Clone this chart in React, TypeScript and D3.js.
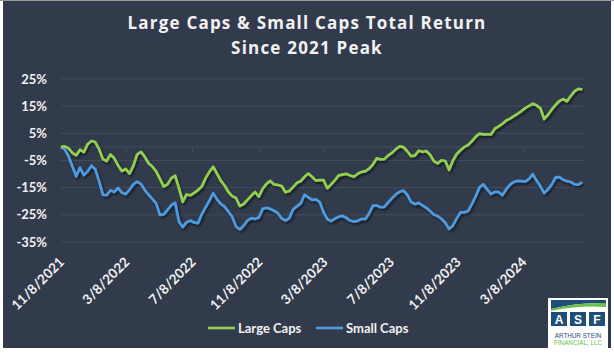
import React from 'react';
import * as d3 from 'd3';

// weekly closes (Mondays), total return since 11/8/2021 in %
const dates = [
  '2021-11-08', '2021-11-15', '2021-11-22', '2021-11-29', '2021-12-06', '2021-12-13', '2021-12-20', '2021-12-27',
  '2022-01-03', '2022-01-10', '2022-01-17', '2022-01-24', '2022-01-31', '2022-02-07', '2022-02-14', '2022-02-21',
  '2022-02-28', '2022-03-07', '2022-03-14', '2022-03-21', '2022-03-28', '2022-04-04', '2022-04-11', '2022-04-18',
  '2022-04-25', '2022-05-02', '2022-05-09', '2022-05-16', '2022-05-23', '2022-05-30', '2022-06-06', '2022-06-13',
  '2022-06-20', '2022-06-27', '2022-07-04', '2022-07-11', '2022-07-18', '2022-07-25', '2022-08-01', '2022-08-08',
  '2022-08-15', '2022-08-22', '2022-08-29', '2022-09-05', '2022-09-12', '2022-09-19', '2022-09-26', '2022-10-03',
  '2022-10-10', '2022-10-17', '2022-10-24', '2022-10-31', '2022-11-07', '2022-11-14', '2022-11-21', '2022-11-28',
  '2022-12-05', '2022-12-12', '2022-12-19', '2022-12-26',
  '2023-01-02', '2023-01-09', '2023-01-16', '2023-01-23', '2023-01-30', '2023-02-06', '2023-02-13', '2023-02-20',
  '2023-02-27', '2023-03-06', '2023-03-13', '2023-03-20', '2023-03-27', '2023-04-03', '2023-04-10', '2023-04-17',
  '2023-04-24', '2023-05-01', '2023-05-08', '2023-05-15', '2023-05-22', '2023-05-29', '2023-06-05', '2023-06-12',
  '2023-06-19', '2023-06-26', '2023-07-03', '2023-07-10', '2023-07-17', '2023-07-24', '2023-07-31', '2023-08-07',
  '2023-08-14', '2023-08-21', '2023-08-28', '2023-09-04', '2023-09-11', '2023-09-18', '2023-09-25', '2023-10-02',
  '2023-10-09', '2023-10-16', '2023-10-23', '2023-10-30', '2023-11-06', '2023-11-13', '2023-11-20', '2023-11-27',
  '2023-12-04', '2023-12-11', '2023-12-18', '2023-12-25',
  '2024-01-01', '2024-01-08', '2024-01-15', '2024-01-22', '2024-01-29', '2024-02-05', '2024-02-12', '2024-02-19',
  '2024-02-26', '2024-03-04', '2024-03-11', '2024-03-18', '2024-03-25', '2024-04-01', '2024-04-08', '2024-04-15',
  '2024-04-22', '2024-04-29', '2024-05-06', '2024-05-13', '2024-05-20', '2024-05-27', '2024-06-03', '2024-06-10',
  '2024-06-17', '2024-06-24',
];

const largeCaps = [
  0.0, 0.2, -0.5, -2.2, -3.1, -1.0, -1.9, 1.0, 2.2, 1.8, -0.8, -4.5, -5.2, -2.8, -4.2, -6.8,
  -8.9, -8.1, -9.8, -7.0, -2.8, -1.8, -3.6, -6.0, -7.2, -9.0, -11.8, -14.6, -13.8, -11.5, -10.6, -15.2,
  -20.2, -17.5, -17.8, -16.9, -15.9, -14.6, -11.5, -9.2, -7.3, -9.8, -12.4, -14.2, -16.6, -18.1, -18.8, -21.8,
  -21.0, -19.5, -18.0, -16.6, -18.3, -15.4, -13.6, -12.5, -13.8, -14.0, -14.4, -16.7,
  -16.2, -14.8, -13.2, -12.6, -11.0, -9.8, -11.0, -12.4, -12.2, -12.2, -15.2, -13.8, -12.2, -10.5, -10.2, -9.9,
  -10.5, -11.0, -9.9, -9.2, -8.9, -8.0, -6.4, -4.2, -4.6, -4.5, -3.1, -2.2, -0.8, 0.2, -0.1, -1.6,
  -3.4, -3.2, -1.4, -1.8, -1.5, -2.9, -5.2, -6.1, -4.9, -5.2, -8.5, -5.0, -2.6, -1.2, 0.0, 0.7,
  2.1, 3.8, 4.9, 4.6,
  4.6, 4.6, 6.7, 7.6, 8.5, 9.7, 10.4, 11.3, 12.2, 13.2, 14.3, 15.1, 15.9, 15.3, 14.2, 10.2,
  11.9, 13.8, 15.5, 16.9, 17.6, 16.8, 18.8, 20.5, 21.4, 21.1,
];

const smallCaps = [
  0.0, -1.0, -3.5, -7.2, -10.8, -7.6, -10.4, -9.0, -6.9, -8.2, -12.6, -17.6, -17.8, -16.0, -16.6, -15.1,
  -16.8, -17.4, -15.8, -13.8, -12.8, -13.6, -15.8, -17.6, -19.1, -20.8, -25.0, -24.8, -23.2, -21.4, -20.5, -27.5,
  -29.5, -27.7, -27.1, -27.8, -28.1, -24.8, -22.2, -19.8, -17.0, -19.3, -21.0, -22.0, -23.8, -25.7, -29.3, -30.4,
  -29.0, -27.1, -26.2, -26.5, -26.0, -22.8, -22.4, -22.8, -23.5, -24.4, -26.3, -27.1,
  -26.2, -23.0, -21.9, -20.8, -17.6, -18.6, -19.5, -19.3, -20.3, -24.0, -26.6, -27.3, -26.4, -25.7, -25.4, -26.1,
  -27.1, -27.5, -27.2, -26.5, -26.5, -24.4, -21.6, -21.6, -22.2, -22.1, -20.4, -18.9, -17.5, -16.5, -16.1, -17.6,
  -20.2, -21.1, -20.6, -21.5, -22.4, -23.6, -24.9, -25.5, -26.5, -27.9, -30.2, -28.9, -26.3, -24.1, -24.1, -23.6,
  -21.0, -18.1, -14.9, -13.8,
  -15.6, -17.3, -16.6, -16.6, -17.8, -15.6, -13.9, -12.9, -12.5, -12.6, -12.8, -11.8, -10.0, -12.4, -14.5, -17.0,
  -15.6, -13.8, -11.2, -11.1, -12.1, -12.6, -12.9, -13.8, -13.9, -13.0,
];

const xTickLabels = ['11/8/2021', '3/8/2022', '7/8/2022', '11/8/2022', '3/8/2023', '7/8/2023', '11/8/2023', '3/8/2024'];
const yTicks = [25, 15, 5, -5, -15, -25, -35];

const BG = '#323b4c';
const GRID = '#434c5d';
const GREEN = '#92d050';
const BLUE = '#4e9be0';

const parseDay = d3.timeParse('%Y-%m-%d');
const parseTick = d3.timeParse('%m/%d/%Y');

export default function App() {
  const days = dates.map((d) => parseDay(d) as Date);

  const x = d3
    .scaleTime()
    .domain([parseDay('2021-11-08') as Date, parseDay('2024-06-29') as Date])
    .range([61, 585]);
  const y = d3.scaleLinear().domain([-35, 25]).range([242, 79]);

  const line = d3
    .line<number>()
    .x((_, i) => x(days[i]))
    .y((v) => y(v));

  const axisFont = 'Lato, "Open Sans", sans-serif';
  const titleProps = {
    x: 307,
    textAnchor: 'middle' as const,
    fill: '#f2f2f2',
    fontFamily: '"Open Sans", sans-serif',
    fontWeight: 700,
    fontSize: 17,
    letterSpacing: 1.2,
  };

  return (
    <svg width={614} height={353} style={{ position: 'absolute', left: 0, top: 0 }}>
      <defs>
        <filter id="shadow" x="-5%" y="-5%" width="110%" height="120%">
          <feDropShadow dx="1.5" dy="2" stdDeviation="1.2" floodColor="#000" floodOpacity="0.55" />
        </filter>
      </defs>
      <rect x={0} y={0} width={614} height={353} fill="#fff" />
      <rect x={3} y={1} width={608} height={347} fill={BG} />
      <line x1={0} x2={614} y1={0.5} y2={0.5} stroke="#9a9a9a" />

      <text {...titleProps} y={29}>
        Large Caps &amp; Small Caps Total Return
      </text>
      <text {...titleProps} y={54}>
        Since 2021 Peak
      </text>

      {yTicks.map((t) => (
        <g key={t}>
          <line x1={61} x2={585} y1={y(t)} y2={y(t)} stroke={GRID} strokeWidth={1} />
          <text
            x={47}
            y={y(t)}
            dy="0.35em"
            textAnchor="end"
            fill="#f2f2f2"
            fontFamily={axisFont}
            fontWeight={700}
            fontSize={13}
          >
            {t}%
          </text>
        </g>
      ))}

      <line x1={61} x2={585} y1={y(0)} y2={y(0)} stroke={GRID} strokeWidth={1} />
      {xTickLabels.map((l) => {
        const tx = x(parseTick(l) as Date);
        return (
          <g key={l}>
            <line x1={tx} x2={tx} y1={y(0)} y2={y(0) + 5} stroke={GRID} />
            <text
              transform={`translate(${tx + 4},${263}) rotate(-45)`}
              textAnchor="end"
              fill="#f2f2f2"
              fontFamily={axisFont}
              fontWeight={700}
              fontSize={13.5}
            >
              {l}
            </text>
          </g>
        );
      })}

      <g filter="url(#shadow)" fill="none" strokeWidth={2.7} strokeLinejoin="round">
        <path d={line(smallCaps) ?? ''} stroke={BLUE} />
        <path d={line(largeCaps) ?? ''} stroke={GREEN} />
      </g>

      <g fontFamily={axisFont} fontWeight={700} fontSize={13} fill="#f2f2f2">
        <line x1={208} x2={235} y1={328} y2={328} stroke={GREEN} strokeWidth={2.6} />
        <text x={238} y={332.5}>Large Caps</text>
        <line x1={316} x2={343} y1={328} y2={328} stroke={BLUE} strokeWidth={2.6} />
        <text x={346} y={332.5}>Small Caps</text>
      </g>

      <g>
        <rect x={548} y={298} width={60} height={51} fill="#fff" />
        <path d="M551,300 L606,300 L606,303 Q578,302 551,309 Z" fill="#1f4e79" />
        <path d="M551,309 Q578,302 606,303 L606,307 Q578,305 551,311 Z" fill="#6abf4b" />
        {['A', 'S', 'F'].map((c, i) => (
          <g key={c}>
            <rect x={551 + i * 19} y={312} width={16} height={14} fill="#1f4e79" />
            <text
              x={559 + i * 19}
              y={323.5}
              textAnchor="middle"
              fill="#fff"
              fontFamily="'Liberation Sans', Arial, sans-serif"
              fontWeight={700}
              fontSize={12}
            >
              {c}
            </text>
          </g>
        ))}
        <text x={578} y={337.5} textAnchor="middle" fill="#1f4e79" fontFamily="'Liberation Sans', Arial, sans-serif" fontSize={6.3}>
          ARTHUR STEIN
        </text>
        <text x={578} y={344.5} textAnchor="middle" fill="#6abf4b" fontFamily="'Liberation Sans', Arial, sans-serif" fontSize={6.3}>
          FINANCIAL, LLC
        </text>
      </g>
    </svg>
  );
}
